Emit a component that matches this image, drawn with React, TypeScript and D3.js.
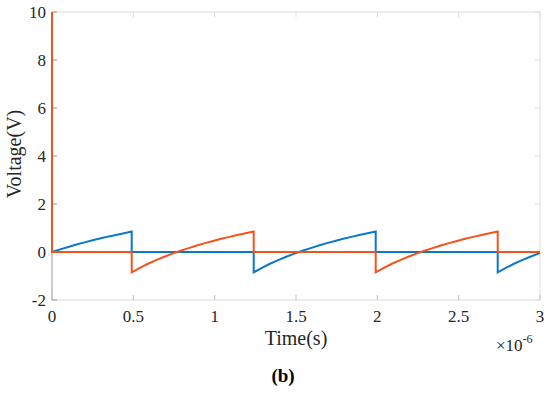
import React from 'react';
import * as d3 from 'd3';

// time in microseconds (axis shows ×10^-6), voltage in V
const blueSeries: [number, number][] = [
  [0, 0], [0.05, 0.11], [0.1, 0.21], [0.15, 0.31], [0.2, 0.4], [0.25, 0.49],
  [0.3, 0.57], [0.35, 0.65], [0.4, 0.72], [0.45, 0.79], [0.49, 0.85],
  [0.49, 0], [1.24, 0],
  [1.24, -0.85], [1.29, -0.66], [1.34, -0.49], [1.39, -0.34], [1.44, -0.2],
  [1.49, -0.07], [1.54, 0.05], [1.59, 0.16], [1.64, 0.27], [1.69, 0.37],
  [1.74, 0.46], [1.79, 0.55], [1.84, 0.63], [1.89, 0.71], [1.94, 0.78], [1.99, 0.85],
  [1.99, 0], [2.74, 0],
  [2.74, -0.85], [2.79, -0.66], [2.84, -0.49], [2.89, -0.34], [2.94, -0.2],
  [2.99, -0.07], [3.0, -0.04],
];

const orangeSeries: [number, number][] = [
  [0, 10], [0, 0], [0.49, 0],
  [0.49, -0.85], [0.54, -0.66], [0.59, -0.49], [0.64, -0.34], [0.69, -0.2],
  [0.74, -0.07], [0.79, 0.05], [0.84, 0.16], [0.89, 0.27], [0.94, 0.37],
  [0.99, 0.46], [1.04, 0.55], [1.09, 0.63], [1.14, 0.71], [1.19, 0.78], [1.24, 0.85],
  [1.24, 0], [1.99, 0],
  [1.99, -0.85], [2.04, -0.66], [2.09, -0.49], [2.14, -0.34], [2.19, -0.2],
  [2.24, -0.07], [2.29, 0.05], [2.34, 0.16], [2.39, 0.27], [2.44, 0.37],
  [2.49, 0.46], [2.54, 0.55], [2.59, 0.63], [2.64, 0.71], [2.69, 0.78], [2.74, 0.85],
  [2.74, 0], [3.0, 0],
];

const xTicks = [0, 0.5, 1, 1.5, 2, 2.5, 3];
const yTicks = [-2, 0, 2, 4, 6, 8, 10];

const W = 550;
const H = 394;
const left = 52, right = 540, top = 12, bottom = 300;
const font = '"Liberation Serif", "Times New Roman", serif';

const App = () => {
  const x = d3.scaleLinear().domain([0, 3]).range([left, right]);
  const y = d3.scaleLinear().domain([-2, 10]).range([bottom, top]);
  const line = d3.line<[number, number]>().x(d => x(d[0])).y(d => y(d[1]));
  const tickLen = 5;

  return (
    <svg width={W} height={H} style={{ position: 'absolute', left: 0, top: 0, background: '#fff' }}>
      {/* box */}
      <line x1={left} x2={right} y1={top} y2={top} stroke="#dcdcdc" />
      <line x1={right} x2={right} y1={top} y2={bottom} stroke="#dcdcdc" />
      <line x1={left} x2={right} y1={bottom} y2={bottom} stroke="#dcdcdc" />
      <line x1={left} x2={left} y1={top} y2={bottom} stroke="#9a9a9a" />
      {xTicks.map(t => (
        <g key={'x' + t}>
          <line x1={x(t)} x2={x(t)} y1={bottom} y2={bottom - tickLen} stroke="#bdbdbd" />
          <line x1={x(t)} x2={x(t)} y1={top} y2={top + tickLen} stroke="#dcdcdc" />
          <text x={x(t)} y={322} textAnchor="middle" fontFamily={font} fontSize={17} fill="#262626">
            {t}
          </text>
        </g>
      ))}
      {yTicks.map(t => (
        <g key={'y' + t}>
          <line x1={left} x2={left + tickLen} y1={y(t)} y2={y(t)} stroke="#9a9a9a" />
          <line x1={right} x2={right - tickLen} y1={y(t)} y2={y(t)} stroke="#dcdcdc" />
          <text x={left - 6} y={y(t) + 6} textAnchor="end" fontFamily={font} fontSize={17} fill="#262626">
            {t}
          </text>
        </g>
      ))}
      <path d={line(blueSeries) || ''} fill="none" stroke="#0a78c8" strokeWidth={2} />
      <path d={line(orangeSeries) || ''} fill="none" stroke="#f4531c" strokeWidth={2} />
      <text
        transform={`translate(21,154) rotate(-90)`}
        textAnchor="middle"
        fontFamily={font}
        fontSize={20}
        fill="#262626"
      >
        Voltage(V)
      </text>
      <text x={296} y={345} textAnchor="middle" fontFamily={font} fontSize={20} fill="#262626">
        Time(s)
      </text>
      <text x={496} y={351} fontFamily={font} fontSize={17} fill="#262626">
        ×10
        <tspan fontSize={12} dy={-8}>-6</tspan>
      </text>
      <text x={283} y={382} textAnchor="middle" fontFamily={font} fontSize={19} fontWeight="bold" fill="#000">
        (b)
      </text>
    </svg>
  );
};

export default App;
